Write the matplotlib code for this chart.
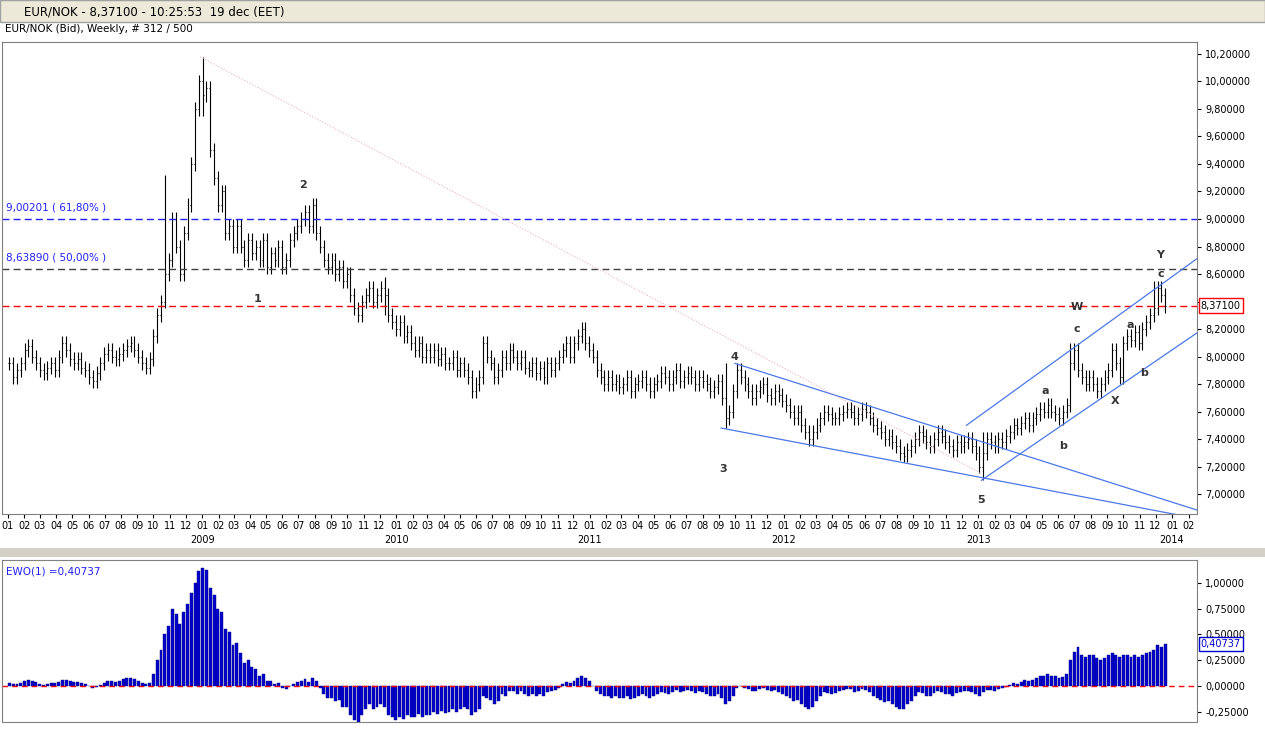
import numpy as np
import pandas as pd
import matplotlib
matplotlib.use("Agg")
import matplotlib.pyplot as plt
import matplotlib.dates as mdates
from matplotlib.patches import Rectangle

# weekly closes, EUR/NOK
close_2008 = [7.95, 7.85, 7.9, 7.95, 8.05, 8.08, 8.0, 7.95, 7.9, 7.88, 7.92, 7.95, 7.9,
              8.0, 8.1, 8.05, 7.98, 7.95, 7.98, 7.92, 7.9, 7.85, 7.82, 7.88, 7.95,
              8.02, 8.05, 8.0, 7.98, 8.02, 8.05, 8.08, 8.1, 8.05, 8.0, 7.95, 7.92, 7.98,
              8.15, 8.3, 8.4, 8.6, 8.7, 9.0, 8.8, 8.6, 8.9, 9.1, 9.4, 9.8, 10.0, 9.9]
close_2009 = [9.95, 9.5, 9.3, 9.1, 9.2, 8.9, 8.95, 8.8, 8.95, 8.8, 8.7, 8.85, 8.75,
              8.8, 8.7, 8.85, 8.65, 8.75, 8.7, 8.8, 8.65, 8.7, 8.85, 8.9, 8.95,
              9.0, 9.05, 8.95, 9.1, 8.9, 8.8, 8.7, 8.65, 8.7, 8.6, 8.65, 8.55, 8.6,
              8.45, 8.35, 8.3, 8.4, 8.45, 8.5, 8.4, 8.45, 8.5, 8.45, 8.3, 8.25, 8.2]
close_2010 = [8.25, 8.15, 8.18, 8.1, 8.05, 8.1, 8.0, 8.05, 8.0, 8.05, 7.98, 8.02, 7.95,
              7.95, 8.0, 7.9, 7.95, 7.9, 7.85, 7.75, 7.8, 7.85, 8.1, 8.0, 7.95,
              7.85, 7.9, 8.0, 7.95, 8.05, 8.0, 7.95, 8.0, 7.92, 7.9, 7.95, 7.88, 7.92,
              7.85, 7.95, 7.9, 7.95, 8.0, 8.05, 8.1, 8.0, 8.1, 8.15, 8.2, 8.1, 8.05]
close_2011 = [8.0, 7.9, 7.85, 7.8, 7.85, 7.8, 7.82, 7.78, 7.8, 7.85, 7.75, 7.8, 7.82,
              7.85, 7.8, 7.75, 7.8, 7.82, 7.88, 7.85, 7.8, 7.85, 7.9, 7.82, 7.85,
              7.88, 7.85, 7.8, 7.85, 7.82, 7.8, 7.75, 7.78, 7.82, 7.7, 7.55, 7.6, 7.75,
              7.9, 7.85, 7.8, 7.75, 7.7, 7.75, 7.78, 7.8, 7.72, 7.7, 7.75, 7.72, 7.68]
close_2012 = [7.65, 7.6, 7.55, 7.6, 7.5, 7.45, 7.4, 7.45, 7.5, 7.55, 7.6, 7.58, 7.55,
              7.55, 7.58, 7.6, 7.62, 7.6, 7.55, 7.58, 7.62, 7.6, 7.55, 7.5, 7.48,
              7.45, 7.4, 7.42, 7.38, 7.35, 7.3, 7.28, 7.32, 7.35, 7.4, 7.45, 7.42, 7.38,
              7.35, 7.4, 7.45, 7.42, 7.38, 7.35, 7.32, 7.38, 7.35, 7.38, 7.4, 7.35, 7.3]
close_2013 = [7.2, 7.3, 7.4, 7.38, 7.35, 7.4, 7.38, 7.42, 7.45, 7.5, 7.48, 7.52, 7.55,
              7.5, 7.55, 7.58, 7.62, 7.6, 7.65, 7.6, 7.58, 7.55, 7.6, 7.65, 7.95,
              8.05, 7.9, 7.85, 7.8, 7.85, 7.8, 7.75, 7.8, 7.85, 7.9, 8.05, 7.95, 7.85,
              8.1, 8.15, 8.12, 8.18, 8.1, 8.2, 8.25, 8.3, 8.35, 8.5, 8.45, 8.37]

# long wicks visible on the chart: (bar index, high, low)
wick_extremes = [(41, 9.32, 8.55), (51, 10.18, 9.75), (99, 8.58, 8.3), (189, 7.95, 7.48),
                 (257, 7.45, 7.1), (280, 8.1, 7.6), (302, 8.55, 8.3)]

ewo_2008 = [0.03, 0.02, 0.02, 0.03, 0.05, 0.06, 0.05, 0.04, 0.02, 0.01, 0.02, 0.03, 0.03,
            0.04, 0.06, 0.06, 0.05, 0.04, 0.04, 0.03, 0.02, 0.0, -0.02, -0.01, 0.01,
            0.03, 0.05, 0.05, 0.04, 0.05, 0.07, 0.08, 0.08, 0.07, 0.05, 0.03, 0.02, 0.03,
            0.12, 0.25, 0.35, 0.5, 0.58, 0.75, 0.7, 0.6, 0.72, 0.8, 0.9, 1.0, 1.12, 1.15]
ewo_2009 = [1.13, 0.95, 0.88, 0.75, 0.72, 0.55, 0.52, 0.4, 0.42, 0.32, 0.22, 0.25, 0.18,
            0.16, 0.1, 0.12, 0.05, 0.05, 0.02, 0.03, -0.02, -0.03, 0.0, 0.02, 0.04,
            0.05, 0.07, 0.04, 0.08, 0.05, -0.02, -0.08, -0.12, -0.12, -0.15, -0.14, -0.2, -0.2,
            -0.28, -0.33, -0.35, -0.28, -0.22, -0.18, -0.22, -0.2, -0.18, -0.2, -0.28, -0.3, -0.33]
ewo_2010 = [-0.3, -0.32, -0.28, -0.3, -0.3, -0.27, -0.3, -0.28, -0.28, -0.25, -0.27, -0.24, -0.26,
            -0.25, -0.22, -0.25, -0.22, -0.2, -0.22, -0.28, -0.25, -0.22, -0.1, -0.12, -0.14,
            -0.18, -0.15, -0.08, -0.1, -0.05, -0.05, -0.08, -0.05, -0.08, -0.1, -0.08, -0.1, -0.08,
            -0.1, -0.06, -0.05, -0.04, -0.02, 0.02, 0.04, 0.03, 0.05, 0.08, 0.1, 0.08, 0.05]
ewo_2011 = [0.0, -0.05, -0.08, -0.1, -0.1, -0.12, -0.1, -0.12, -0.12, -0.1, -0.13, -0.12, -0.1,
            -0.08, -0.1, -0.12, -0.1, -0.08, -0.06, -0.07, -0.08, -0.06, -0.04, -0.06, -0.05,
            -0.04, -0.05, -0.07, -0.05, -0.06, -0.08, -0.1, -0.1, -0.08, -0.12, -0.18, -0.15, -0.1,
            -0.02, 0.0, -0.02, -0.03, -0.05, -0.05, -0.03, -0.02, -0.04, -0.05, -0.04, -0.06, -0.08]
ewo_2012 = [-0.1, -0.12, -0.15, -0.14, -0.18, -0.2, -0.22, -0.2, -0.15, -0.1, -0.06, -0.07, -0.08,
            -0.07, -0.05, -0.04, -0.03, -0.03, -0.06, -0.05, -0.03, -0.04, -0.06, -0.1, -0.12,
            -0.14, -0.16, -0.15, -0.18, -0.2, -0.22, -0.22, -0.18, -0.15, -0.1, -0.06, -0.07, -0.1,
            -0.1, -0.07, -0.05, -0.06, -0.08, -0.08, -0.1, -0.07, -0.06, -0.05, -0.05, -0.06, -0.08]
ewo_2013 = [-0.1, -0.06, -0.04, -0.04, -0.05, -0.03, -0.02, -0.01, 0.01, 0.03, 0.02, 0.04, 0.06,
            0.05, 0.06, 0.08, 0.1, 0.1, 0.12, 0.1, 0.1, 0.08, 0.09, 0.12, 0.25,
            0.33, 0.38, 0.3, 0.28, 0.3, 0.3, 0.27, 0.25, 0.27, 0.3, 0.32, 0.3, 0.28,
            0.3, 0.3, 0.28, 0.3, 0.28, 0.3, 0.32, 0.33, 0.35, 0.4, 0.38, 0.41]

closes = close_2008 + close_2009 + close_2010 + close_2011 + close_2012 + close_2013
ewo = ewo_2008 + ewo_2009 + ewo_2010 + ewo_2011 + ewo_2012 + ewo_2013
n = min(len(closes), len(ewo))
closes = np.array(closes[:n])
ewo = np.array(ewo[:n])
# bars spread evenly from the first week of 2008 to the last bar, 19 dec 2013
x = np.linspace(mdates.date2num(pd.Timestamp("2008-01-04")),
                mdates.date2num(pd.Timestamp("2013-12-19")), n)

fib_levels = [(9.00201, "9,00201 ( 61,80% )", "#2020ff"), (8.6389, "8,63890 ( 50,00% )", "#404040")]
last_price = 8.371

trend_lines = [("2011-10-01", 7.95, "2014-02-20", 6.88), ("2011-09-05", 7.48, "2014-02-20", 6.82),
               ("2012-12-10", 7.5, "2014-02-20", 8.72), ("2013-01-07", 7.1, "2014-02-20", 8.18)]
waves = [("2009-04-15", 8.42, "1"), ("2009-07-10", 9.25, "2"), ("2011-09-08", 7.18, "3"),
         ("2011-10-01", 8.0, "4"), ("2013-01-07", 6.96, "5"), ("2013-07-05", 8.36, "W"),
         ("2013-07-05", 8.2, "c"), ("2013-05-08", 7.75, "a"), ("2013-06-10", 7.35, "b"),
         ("2013-09-15", 7.68, "X"), ("2013-10-15", 8.23, "a"), ("2013-11-10", 7.88, "b"),
         ("2013-12-10", 8.6, "c"), ("2013-12-10", 8.74, "Y")]

W, H = 1265, 736
fig = plt.figure(figsize=(W / 100, H / 100), dpi=100, facecolor="white")

def ax_px(l, t, r, b):
    return fig.add_axes([l / W, 1 - b / H, (r - l) / W, (b - t) / H])

# window chrome
fig.patches.append(Rectangle((0, 1 - 22 / H), 1, 22 / H, transform=fig.transFigure,
                             facecolor="#ece9d8", edgecolor="#a0a0a0", zorder=-1))
fig.patches.append(Rectangle((0, 1 - 557 / H), 1, 9 / H, transform=fig.transFigure,
                             facecolor="#d4d0c8", edgecolor="none", zorder=-1))
fig.text(24 / W, 1 - 12 / H, "EUR/NOK - 8,37100 - 10:25:53  19 dec (EET)", fontsize=8.5, va="center")
fig.text(5 / W, 1 - 29 / H, "EUR/NOK (Bid), Weekly, # 312 / 500", fontsize=7.5, va="center")

xl = (mdates.date2num(pd.Timestamp("2008-01-01")) - 11, mdates.date2num(pd.Timestamp("2014-01-01")) + 47)

ax = ax_px(2, 42, 1197, 514)
ax.set_xlim(xl)
ax.set_ylim(6.855, 10.287)
opens = np.r_[closes[0], closes[:-1]]
hi = np.maximum(opens, closes) + 0.05
lo = np.minimum(opens, closes) - 0.05
for i, h, l in wick_extremes:
    if i < n:
        hi[i] = max(hi[i], h)
        lo[i] = min(lo[i], l)
ax.vlines(x, lo, hi, color="black", lw=0.8)
ax.hlines(opens, x - 1.8, x, color="black", lw=0.8)
ax.hlines(closes, x, x + 1.8, color="black", lw=0.8)

for lev, lab, col in fib_levels:
    ax.axhline(lev, color=col, ls=(0, (5, 3)), lw=1)
    ax.text(xl[0] + 8, lev + 0.06, lab, color="#2020ff", fontsize=7.5)
ax.axhline(last_price, color="red", ls=(0, (5, 3)), lw=1)

for d0, y0, d1, y1 in trend_lines:
    ax.plot(mdates.date2num(pd.to_datetime([d0, d1])), [y0, y1], color="#4a78e8", lw=0.9)
ax.plot(mdates.date2num(pd.to_datetime(["2008-12-28", "2013-01-07"])), [10.18, 7.15],
        color="#f0b0c0", lw=0.8, ls=":")
for d, y, s in waves:
    ax.text(mdates.date2num(pd.Timestamp(d)), y, s, ha="center", va="center",
            fontsize=8, fontweight="bold", color="#333333")

ax.yaxis.tick_right()
yt = np.arange(7.0, 10.21, 0.2)
ax.set_yticks(yt)
ax.set_yticklabels(["" if abs(v - 8.4) < 0.01 else f"{v:,.5f}".replace(".", ",") for v in yt], fontsize=7)
ax.tick_params(axis="y", length=3, pad=3)
ax.text(1.003, (last_price - 6.855) / (10.287 - 6.855), "8,37100", transform=ax.transAxes,
        fontsize=7, va="center", bbox=dict(facecolor="white", edgecolor="red", pad=1.5))

months = pd.date_range("2008-01-01", "2014-02-01", freq="MS")
mx = mdates.date2num(months)
ax.set_xticks(mx)
ax.set_xticklabels([f"{m.month:02d}" for m in months], fontsize=7)
ax.tick_params(axis="x", length=3, pad=2)
for m, xm in zip(months, mx):
    if m.month == 1 and m.year > 2008:
        ax.text(xm, -0.045, str(m.year), transform=ax.get_xaxis_transform(), ha="center",
                va="top", fontsize=7)
for sp in ax.spines.values():
    sp.set_color("#808080")

ax2 = ax_px(2, 560, 1197, 722)
ax2.set_xlim(xl)
ax2.set_ylim(-0.35, 1.223)
ax2.bar(x, ewo, width=5.5, color="#0000cc", edgecolor="#000080", lw=0.3)
ax2.axhline(0, color="red", ls=(0, (4, 3)), lw=1)
ax2.set_xticks([])
ax2.yaxis.tick_right()
ev = [-0.25, 0, 0.25, 0.5, 0.75, 1.0]
ax2.set_yticks(ev)
ax2.set_yticklabels([f"{v:,.5f}".replace(".", ",") for v in ev], fontsize=7)
ax2.tick_params(axis="y", length=3, pad=3)
ax2.text(1.003, (0.40737 + 0.35) / 1.573, "0,40737", transform=ax2.transAxes, fontsize=7,
         va="center", color="#0000cc", bbox=dict(facecolor="white", edgecolor="#0000cc", pad=1.5))
ax2.text(0.003, 0.96, "EWO(1) =0,40737", transform=ax2.transAxes, fontsize=7.5,
         color="#2020ff", va="top")
for sp in ax2.spines.values():
    sp.set_color("#808080")

fig.savefig("out.png", dpi=100, facecolor=fig.get_facecolor())
